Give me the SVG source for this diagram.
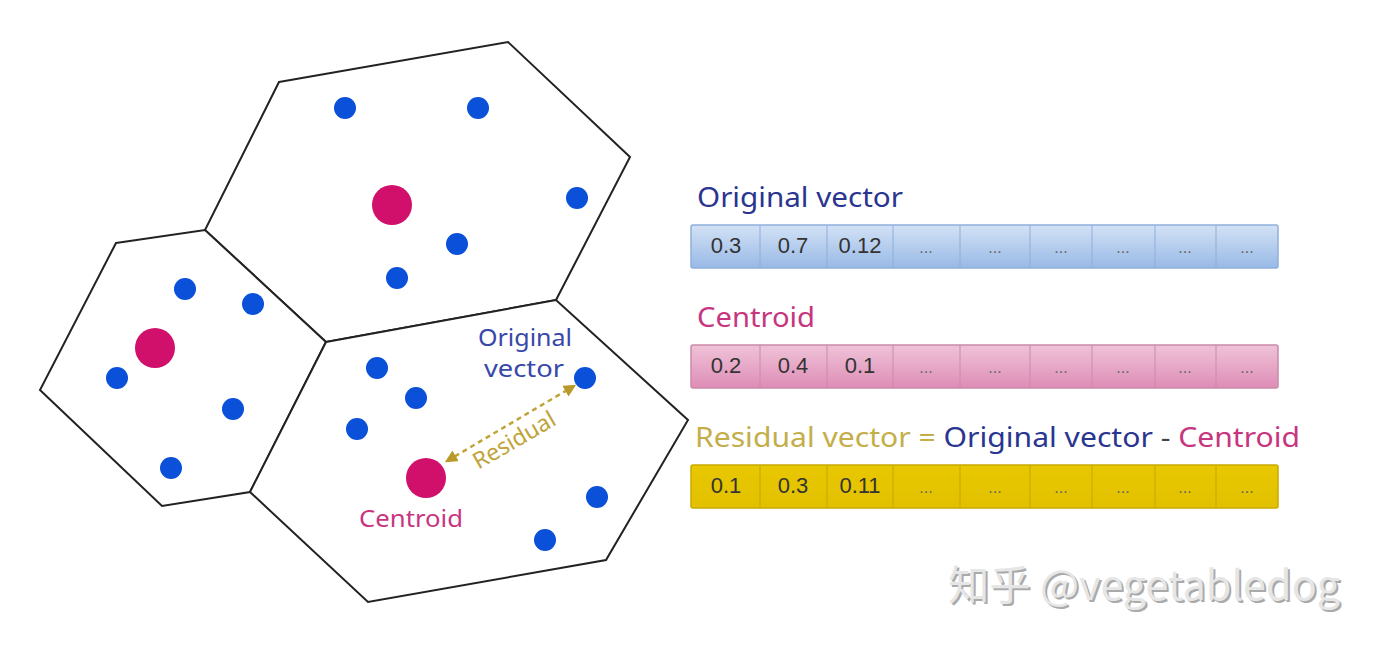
<svg xmlns="http://www.w3.org/2000/svg" width="1376" height="648" viewBox="0 0 1376 648">
<defs>
<linearGradient id="gBlue" x1="0" y1="0" x2="0" y2="1"><stop offset="0" stop-color="#d3e2f5"/><stop offset="1" stop-color="#98b9e6"/></linearGradient>
<linearGradient id="gPink" x1="0" y1="0" x2="0" y2="1"><stop offset="0" stop-color="#efc3d8"/><stop offset="1" stop-color="#de8db6"/></linearGradient>
<linearGradient id="gYellow" x1="0" y1="0" x2="0" y2="1"><stop offset="0" stop-color="#e8c800"/><stop offset="1" stop-color="#e2c000"/></linearGradient>
<marker id="arrGold" viewBox="0 0 10 10" refX="8" refY="5" markerWidth="5" markerHeight="5" orient="auto-start-reverse"><path d="M0,0 L10,5 L0,10 z" fill="#b89a2a"/></marker>
</defs>
<style>
.hex{fill:#fff;stroke:#222;stroke-width:2;stroke-linejoin:miter}
.dot{fill:#0b50d8}
.cen{fill:#d0106a}
.lbl{font-family:"Noto Sans","DejaVu Sans",sans-serif}
.cell{font-family:"Liberation Sans",Arial,sans-serif;font-size:22px;fill:#333;text-anchor:middle}
.dots{font-family:"Liberation Sans",Arial,sans-serif;font-size:16px;fill:#666;text-anchor:middle}
.sep{stroke-width:1}
.wm{font-family:"Noto Sans CJK SC","Noto Sans",sans-serif;font-size:41px;fill:#e6e6e6}
</style>
<rect width="1376" height="648" fill="#fff"/>

<g id="hex-top">
<polygon class="hex" points="279,82 508,42 630,157 556,300 326,342 205,230"/>
<circle class="dot" cx="345" cy="108" r="11"/>
<circle class="dot" cx="478" cy="108" r="11"/>
<circle class="dot" cx="577" cy="198" r="11"/>
<circle class="dot" cx="457" cy="244" r="11"/>
<circle class="dot" cx="397" cy="278" r="11"/>
<circle class="cen" cx="392" cy="205" r="20"/>
</g>
<g id="hex-left">
<polygon class="hex" points="116,243 205,230 326,342 250,492 162,506 40,390"/>
<circle class="dot" cx="185" cy="289" r="11"/>
<circle class="dot" cx="253" cy="304" r="11"/>
<circle class="dot" cx="117" cy="378" r="11"/>
<circle class="dot" cx="233" cy="409" r="11"/>
<circle class="dot" cx="171" cy="468" r="11"/>
<circle class="cen" cx="155" cy="348" r="20"/>
</g>
<g id="hex-bottom">
<polygon class="hex" points="326,342 556,300 688,420 606,560 368,602 250,492"/>
<circle class="dot" cx="377" cy="368" r="11"/>
<circle class="dot" cx="416" cy="398" r="11"/>
<circle class="dot" cx="357" cy="429" r="11"/>
<circle class="dot" cx="585" cy="378" r="11"/>
<circle class="dot" cx="597" cy="497" r="11"/>
<circle class="dot" cx="545" cy="540" r="11"/>
<circle class="cen" cx="426" cy="478" r="20"/>
<text class="lbl" x="525" y="346" font-size="23" fill="#3848a8" text-anchor="middle" textLength="94" lengthAdjust="spacingAndGlyphs">Original</text>
<text class="lbl" x="524" y="377" font-size="23" fill="#3848a8" text-anchor="middle" textLength="80" lengthAdjust="spacingAndGlyphs">vector</text>
<text class="lbl" x="411" y="527" font-size="23" fill="#c8357f" text-anchor="middle" textLength="104" lengthAdjust="spacingAndGlyphs">Centroid</text>
<text class="lbl" x="0" y="0" font-size="23" fill="#c0a43a" text-anchor="middle" transform="translate(518,447) rotate(-30)">Residual</text>
</g>

<g id="connectors">
<line x1="447" y1="461" x2="574" y2="386" stroke="#c0a43a" stroke-width="2.5" stroke-dasharray="5,4" marker-start="url(#arrGold)" marker-end="url(#arrGold)"/>
</g>

<g id="vec-original">
<text class="lbl" x="697" y="207" font-size="28" fill="#2a3590" textLength="206" lengthAdjust="spacingAndGlyphs">Original vector</text>
<rect x="691" y="225" width="587" height="43" fill="url(#gBlue)" stroke="#8eaedb" stroke-width="1.5" rx="2"/>
<g stroke="#8eaedb" class="sep">
<line x1="760" y1="225" x2="760" y2="268"/><line x1="827" y1="225" x2="827" y2="268"/><line x1="893" y1="225" x2="893" y2="268"/><line x1="960" y1="225" x2="960" y2="268"/><line x1="1030" y1="225" x2="1030" y2="268"/><line x1="1092" y1="225" x2="1092" y2="268"/><line x1="1155" y1="225" x2="1155" y2="268"/><line x1="1216" y1="225" x2="1216" y2="268"/>
</g>
<text class="cell" x="726" y="253">0.3</text><text class="cell" x="793" y="253">0.7</text><text class="cell" x="860" y="253">0.12</text>
<text class="dots" x="926" y="253">...</text><text class="dots" x="995" y="253">...</text><text class="dots" x="1061" y="253">...</text><text class="dots" x="1123" y="253">...</text><text class="dots" x="1185" y="253">...</text><text class="dots" x="1247" y="253">...</text>
</g>

<g id="vec-centroid">
<text class="lbl" x="697" y="327" font-size="28" fill="#c8357f" textLength="118" lengthAdjust="spacingAndGlyphs">Centroid</text>
<rect x="691" y="345" width="587" height="43" fill="url(#gPink)" stroke="#c98aaa" stroke-width="1.5" rx="2"/>
<g stroke="#c98aaa" class="sep">
<line x1="760" y1="345" x2="760" y2="388"/><line x1="827" y1="345" x2="827" y2="388"/><line x1="893" y1="345" x2="893" y2="388"/><line x1="960" y1="345" x2="960" y2="388"/><line x1="1030" y1="345" x2="1030" y2="388"/><line x1="1092" y1="345" x2="1092" y2="388"/><line x1="1155" y1="345" x2="1155" y2="388"/><line x1="1216" y1="345" x2="1216" y2="388"/>
</g>
<text class="cell" x="726" y="373">0.2</text><text class="cell" x="793" y="373">0.4</text><text class="cell" x="860" y="373">0.1</text>
<text class="dots" x="926" y="373">...</text><text class="dots" x="995" y="373">...</text><text class="dots" x="1061" y="373">...</text><text class="dots" x="1123" y="373">...</text><text class="dots" x="1185" y="373">...</text><text class="dots" x="1247" y="373">...</text>
</g>

<g id="vec-residual">
<text class="lbl" x="695" y="447" font-size="28" textLength="605" lengthAdjust="spacingAndGlyphs"><tspan fill="#c4ae4a">Residual vector = </tspan><tspan fill="#2a3590">Original vector </tspan><tspan fill="#444">- </tspan><tspan fill="#c8357f">Centroid</tspan></text>
<rect x="691" y="465" width="587" height="43" fill="url(#gYellow)" stroke="#c9ab00" stroke-width="1.5" rx="2"/>
<g stroke="#c4a600" class="sep">
<line x1="760" y1="465" x2="760" y2="508"/><line x1="827" y1="465" x2="827" y2="508"/><line x1="893" y1="465" x2="893" y2="508"/><line x1="960" y1="465" x2="960" y2="508"/><line x1="1030" y1="465" x2="1030" y2="508"/><line x1="1092" y1="465" x2="1092" y2="508"/><line x1="1155" y1="465" x2="1155" y2="508"/><line x1="1216" y1="465" x2="1216" y2="508"/>
</g>
<text class="cell" x="726" y="493">0.1</text><text class="cell" x="793" y="493">0.3</text><text class="cell" x="860" y="493">0.11</text>
<text class="dots" x="926" y="493">...</text><text class="dots" x="995" y="493">...</text><text class="dots" x="1061" y="493">...</text><text class="dots" x="1123" y="493">...</text><text class="dots" x="1185" y="493">...</text><text class="dots" x="1247" y="493">...</text>
</g>

<g id="watermark">
<text class="wm" x="950" y="602" style="fill:#aaa" textLength="392" lengthAdjust="spacingAndGlyphs">知乎 @vegetabledog</text>
<text class="wm" x="948" y="600" textLength="392" lengthAdjust="spacingAndGlyphs">知乎 @vegetabledog</text>
</g>
</svg>
